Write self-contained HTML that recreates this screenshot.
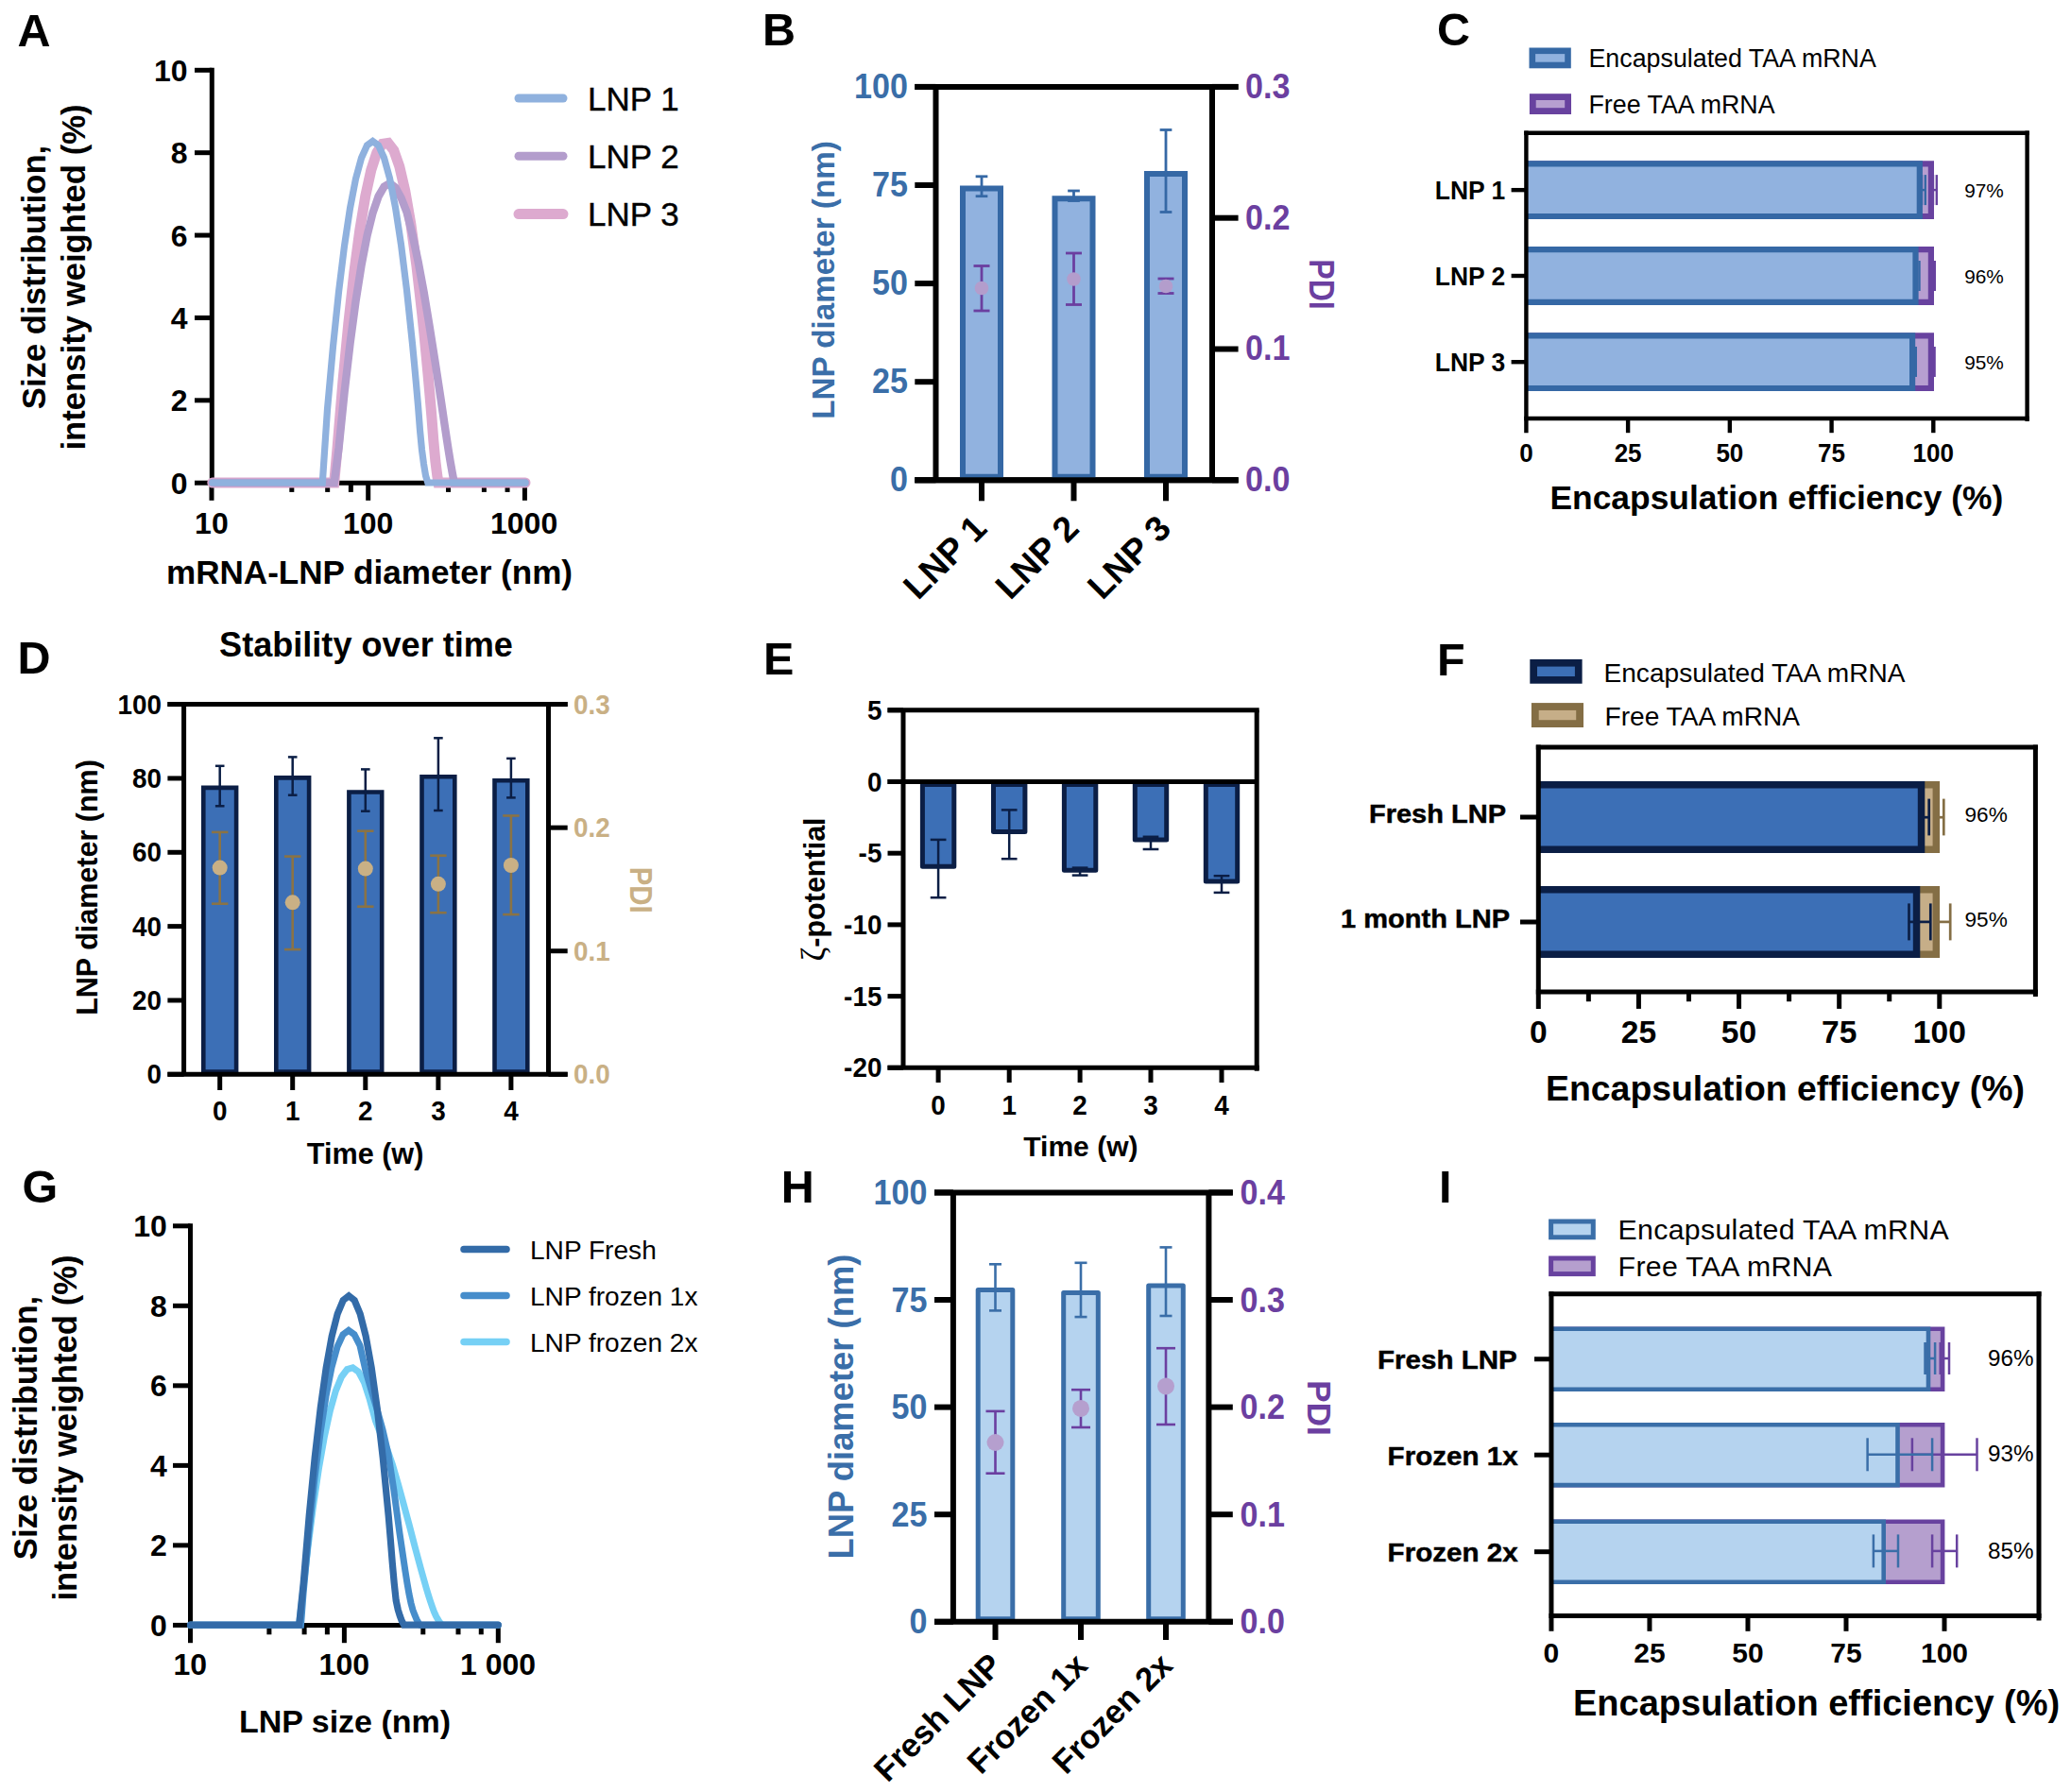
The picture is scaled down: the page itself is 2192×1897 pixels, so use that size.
<!DOCTYPE html>
<html lang="en"><head><meta charset="utf-8"><title>Figure</title>
<style>html,body{margin:0;padding:0;background:#fff}svg{display:block}text{font-family:"Liberation Sans", sans-serif}</style></head>
<body>
<svg width="2192" height="1897" viewBox="0 0 2192 1897">
<rect width="2192" height="1897" fill="#fff"/>
<text x="18.5" y="48.6" font-size="48.5" text-anchor="start" font-weight="bold" fill="#000">A</text>
<line x1="224.3" y1="71.8" x2="224.3" y2="513.7" stroke="#000" stroke-width="5"/>
<line x1="224.3" y1="511.2" x2="556" y2="511.2" stroke="#000" stroke-width="5"/>
<line x1="206" y1="511.2" x2="224.3" y2="511.2" stroke="#000" stroke-width="5"/>
<text x="198.6" y="522.7" font-size="32" text-anchor="end" font-weight="bold" fill="#000">0</text>
<line x1="206" y1="423.82" x2="224.3" y2="423.82" stroke="#000" stroke-width="5"/>
<text x="198.6" y="435.32" font-size="32" text-anchor="end" font-weight="bold" fill="#000">2</text>
<line x1="206" y1="336.44" x2="224.3" y2="336.44" stroke="#000" stroke-width="5"/>
<text x="198.6" y="347.94" font-size="32" text-anchor="end" font-weight="bold" fill="#000">4</text>
<line x1="206" y1="249.06" x2="224.3" y2="249.06" stroke="#000" stroke-width="5"/>
<text x="198.6" y="260.56" font-size="32" text-anchor="end" font-weight="bold" fill="#000">6</text>
<line x1="206" y1="161.68" x2="224.3" y2="161.68" stroke="#000" stroke-width="5"/>
<text x="198.6" y="173.18" font-size="32" text-anchor="end" font-weight="bold" fill="#000">8</text>
<line x1="206" y1="74.3" x2="224.3" y2="74.3" stroke="#000" stroke-width="5"/>
<text x="198.6" y="85.8" font-size="32" text-anchor="end" font-weight="bold" fill="#000">10</text>
<line x1="224" y1="511.2" x2="224" y2="529.8" stroke="#000" stroke-width="5"/>
<line x1="389.7" y1="511.2" x2="389.7" y2="529.8" stroke="#000" stroke-width="5"/>
<line x1="555.4" y1="511.2" x2="555.4" y2="529.8" stroke="#000" stroke-width="5"/>
<line x1="308.82" y1="511.2" x2="308.82" y2="520.9" stroke="#000" stroke-width="5"/>
<line x1="346.68" y1="511.2" x2="346.68" y2="520.9" stroke="#000" stroke-width="5"/>
<line x1="371.36" y1="511.2" x2="371.36" y2="520.9" stroke="#000" stroke-width="5"/>
<line x1="474.52" y1="511.2" x2="474.52" y2="520.9" stroke="#000" stroke-width="5"/>
<line x1="512.38" y1="511.2" x2="512.38" y2="520.9" stroke="#000" stroke-width="5"/>
<line x1="537.06" y1="511.2" x2="537.06" y2="520.9" stroke="#000" stroke-width="5"/>
<text x="223.9" y="565.4" font-size="32" text-anchor="middle" font-weight="bold" fill="#000">10</text>
<text x="389.7" y="565.4" font-size="32" text-anchor="middle" font-weight="bold" fill="#000">100</text>
<text x="554.6" y="565.4" font-size="32" text-anchor="middle" font-weight="bold" fill="#000">1000</text>
<text x="391" y="618.3" font-size="35.1" text-anchor="middle" font-weight="bold" fill="#000">mRNA-LNP diameter (nm)</text>
<text x="47.5" y="293.5" font-size="34.7" text-anchor="middle" font-weight="bold" fill="#000" transform="rotate(-90 47.5 293.5)">Size distribution,</text>
<text x="90.3" y="293.5" font-size="34.7" text-anchor="middle" font-weight="bold" fill="#000" transform="rotate(-90 90.3 293.5)">intensity weighted (%)</text>
<polyline points="224.8,511 353.7,511 356.8,477.25 362.8,405.21 368.8,342.42 374.8,288.54 380.8,243.53 386.8,207.36 392.8,180.04 398.8,161.53 404.8,152.32 410.8,151.49 416.8,159.18 422.8,176.28 428.8,202.14 434.8,236.84 440.8,280.39 446.8,332.8 448.8,352.28 450.8,372.65 452.8,394.1 454.8,416.54 456.8,439.97 458.8,466.17 460.8,487.66 462.8,503.67 464,511 556,511" fill="none" stroke="#DDAACF" stroke-width="11" stroke-linejoin="miter" stroke-linecap="round"/>
<polyline points="224.8,511 353.7,511 358.6,473.94 364.6,415.18 370.6,363.34 376.6,318.42 382.6,280.4 388.6,249.3 394.6,225.1 400.6,207.82 406.6,197.46 412.6,194 418.6,198.65 424.6,209.52 430.6,224.77 436.6,248.68 442.6,276.94 448.6,309.11 454.6,345.37 460.6,383.47 466.6,422.55 468.6,436.12 470.6,449.76 472.6,463.21 474.6,476.17 476.6,488.37 478.6,499.72 480.7,511 556,511" fill="none" stroke="#B39DCC" stroke-width="8.4" stroke-linejoin="miter" stroke-linecap="round"/>
<polyline points="224.8,511 341.3,511 346.5,433.35 352.5,366.82 358.5,309.17 364.5,260.38 370.5,220.46 376.5,189.42 382.5,167.24 388.5,153.94 394.5,149.5 400.5,153.87 406.5,167 412.5,188.87 418.5,219.48 424.5,258.85 430.5,306.96 436.5,363.83 438.5,384.73 440.5,406.68 442.5,429.44 444.5,455.43 446.5,476.19 448.5,491.24 450.5,503.32 452.8,511 556,511" fill="none" stroke="#8FB1DE" stroke-width="7.2" stroke-linejoin="miter" stroke-linecap="round"/>
<line x1="549" y1="104" x2="596" y2="104" stroke="#8FB1DE" stroke-width="9" stroke-linecap="round"/>
<text x="622" y="116.5" font-size="35" text-anchor="start" font-weight="normal" fill="#000" stroke="#000" stroke-width="0.4">LNP 1</text>
<line x1="549" y1="165.3" x2="596" y2="165.3" stroke="#B39DCC" stroke-width="9" stroke-linecap="round"/>
<text x="622" y="177.8" font-size="35" text-anchor="start" font-weight="normal" fill="#000" stroke="#000" stroke-width="0.4">LNP 2</text>
<line x1="549" y1="226.6" x2="596" y2="226.6" stroke="#DDAACF" stroke-width="11" stroke-linecap="round"/>
<text x="622" y="239.1" font-size="35" text-anchor="start" font-weight="normal" fill="#000" stroke="#000" stroke-width="0.4">LNP 3</text>
<text x="807" y="47.9" font-size="48.5" text-anchor="start" font-weight="bold" fill="#000">B</text>
<line x1="968.3" y1="91.9" x2="1310.6" y2="91.9" stroke="#000" stroke-width="6"/>
<line x1="968.3" y1="508.3" x2="1310.6" y2="508.3" stroke="#000" stroke-width="6"/>
<line x1="990.5" y1="91.9" x2="990.5" y2="508.3" stroke="#000" stroke-width="6"/>
<line x1="1283" y1="91.9" x2="1283" y2="508.3" stroke="#000" stroke-width="6"/>
<line x1="968.3" y1="508.3" x2="990.5" y2="508.3" stroke="#000" stroke-width="6"/>
<text x="961" y="520.2" font-size="36.5" text-anchor="end" font-weight="bold" fill="#3A6EA8" textLength="18.98" lengthAdjust="spacingAndGlyphs">0</text>
<line x1="968.3" y1="404.2" x2="990.5" y2="404.2" stroke="#000" stroke-width="6"/>
<text x="961" y="416.1" font-size="36.5" text-anchor="end" font-weight="bold" fill="#3A6EA8" textLength="37.96" lengthAdjust="spacingAndGlyphs">25</text>
<line x1="968.3" y1="300.1" x2="990.5" y2="300.1" stroke="#000" stroke-width="6"/>
<text x="961" y="312" font-size="36.5" text-anchor="end" font-weight="bold" fill="#3A6EA8" textLength="37.96" lengthAdjust="spacingAndGlyphs">50</text>
<line x1="968.3" y1="196" x2="990.5" y2="196" stroke="#000" stroke-width="6"/>
<text x="961" y="207.9" font-size="36.5" text-anchor="end" font-weight="bold" fill="#3A6EA8" textLength="37.96" lengthAdjust="spacingAndGlyphs">75</text>
<line x1="968.3" y1="91.9" x2="990.5" y2="91.9" stroke="#000" stroke-width="6"/>
<text x="961" y="103.8" font-size="36.5" text-anchor="end" font-weight="bold" fill="#3A6EA8" textLength="56.94" lengthAdjust="spacingAndGlyphs">100</text>
<line x1="1283" y1="508.3" x2="1310.6" y2="508.3" stroke="#000" stroke-width="6"/>
<text x="1318" y="520.2" font-size="36.5" text-anchor="start" font-weight="bold" fill="#6B3FA0" textLength="47.44" lengthAdjust="spacingAndGlyphs">0.0</text>
<line x1="1283" y1="369.5" x2="1310.6" y2="369.5" stroke="#000" stroke-width="6"/>
<text x="1318" y="381.4" font-size="36.5" text-anchor="start" font-weight="bold" fill="#6B3FA0" textLength="47.44" lengthAdjust="spacingAndGlyphs">0.1</text>
<line x1="1283" y1="230.7" x2="1310.6" y2="230.7" stroke="#000" stroke-width="6"/>
<text x="1318" y="242.6" font-size="36.5" text-anchor="start" font-weight="bold" fill="#6B3FA0" textLength="47.44" lengthAdjust="spacingAndGlyphs">0.2</text>
<line x1="1283" y1="91.9" x2="1310.6" y2="91.9" stroke="#000" stroke-width="6"/>
<text x="1318" y="103.8" font-size="36.5" text-anchor="start" font-weight="bold" fill="#6B3FA0" textLength="47.44" lengthAdjust="spacingAndGlyphs">0.3</text>
<path d="M1019,504.8 L1019,199.6 L1059,199.6 L1059,504.8Z" fill="#91B2DF" stroke="#3568A5" stroke-width="6" stroke-linejoin="miter"/>
<line x1="1039" y1="186.8" x2="1039" y2="207.7" stroke="#3568A5" stroke-width="2.8"/>
<line x1="1032.65" y1="186.8" x2="1045.35" y2="186.8" stroke="#3568A5" stroke-width="2.8"/>
<line x1="1032.65" y1="207.7" x2="1045.35" y2="207.7" stroke="#3568A5" stroke-width="2.8"/>
<line x1="1039" y1="281.5" x2="1039" y2="329" stroke="#6B3FA0" stroke-width="2.8"/>
<line x1="1030.5" y1="281.5" x2="1047.5" y2="281.5" stroke="#6B3FA0" stroke-width="2.8"/>
<line x1="1030.5" y1="329" x2="1047.5" y2="329" stroke="#6B3FA0" stroke-width="2.8"/>
<circle cx="1039" cy="305" r="7.3" fill="#B39DCC"/>
<line x1="1039" y1="508.3" x2="1039" y2="530.3" stroke="#000" stroke-width="6"/>
<path d="M1116.5,504.8 L1116.5,210.2 L1156.5,210.2 L1156.5,504.8Z" fill="#91B2DF" stroke="#3568A5" stroke-width="6" stroke-linejoin="miter"/>
<line x1="1136.5" y1="202" x2="1136.5" y2="212.5" stroke="#3568A5" stroke-width="2.8"/>
<line x1="1130.15" y1="202" x2="1142.85" y2="202" stroke="#3568A5" stroke-width="2.8"/>
<line x1="1130.15" y1="212.5" x2="1142.85" y2="212.5" stroke="#3568A5" stroke-width="2.8"/>
<line x1="1136.5" y1="268" x2="1136.5" y2="322.5" stroke="#6B3FA0" stroke-width="2.8"/>
<line x1="1128" y1="268" x2="1145" y2="268" stroke="#6B3FA0" stroke-width="2.8"/>
<line x1="1128" y1="322.5" x2="1145" y2="322.5" stroke="#6B3FA0" stroke-width="2.8"/>
<circle cx="1136.5" cy="295.5" r="7.3" fill="#B39DCC"/>
<line x1="1136.5" y1="508.3" x2="1136.5" y2="530.3" stroke="#000" stroke-width="6"/>
<path d="M1214,504.8 L1214,184 L1254,184 L1254,504.8Z" fill="#91B2DF" stroke="#3568A5" stroke-width="6" stroke-linejoin="miter"/>
<line x1="1234" y1="137.5" x2="1234" y2="224.5" stroke="#3568A5" stroke-width="2.8"/>
<line x1="1227.65" y1="137.5" x2="1240.35" y2="137.5" stroke="#3568A5" stroke-width="2.8"/>
<line x1="1227.65" y1="224.5" x2="1240.35" y2="224.5" stroke="#3568A5" stroke-width="2.8"/>
<line x1="1234" y1="295" x2="1234" y2="310.5" stroke="#6B3FA0" stroke-width="2.8"/>
<line x1="1225.5" y1="295" x2="1242.5" y2="295" stroke="#6B3FA0" stroke-width="2.8"/>
<line x1="1225.5" y1="310.5" x2="1242.5" y2="310.5" stroke="#6B3FA0" stroke-width="2.8"/>
<circle cx="1234" cy="303" r="7.3" fill="#B39DCC"/>
<line x1="1234" y1="508.3" x2="1234" y2="530.3" stroke="#000" stroke-width="6"/>
<line x1="968.3" y1="508.3" x2="1310.6" y2="508.3" stroke="#000" stroke-width="6"/>
<text x="1046.5" y="561.5" font-size="37.5" text-anchor="end" font-weight="bold" fill="#000" transform="rotate(-45 1046.5 561.5)">LNP 1</text>
<text x="1144" y="561.5" font-size="37.5" text-anchor="end" font-weight="bold" fill="#000" transform="rotate(-45 1144 561.5)">LNP 2</text>
<text x="1241.5" y="561.5" font-size="37.5" text-anchor="end" font-weight="bold" fill="#000" transform="rotate(-45 1241.5 561.5)">LNP 3</text>
<text x="883.4" y="296.5" font-size="33.2" text-anchor="middle" font-weight="bold" fill="#3A6EA8" transform="rotate(-90 883.4 296.5)">LNP diameter (nm)</text>
<text x="1386.3" y="301" font-size="36" text-anchor="middle" font-weight="bold" fill="#6B3FA0" transform="rotate(90 1386.3 301)" textLength="53.4" lengthAdjust="spacingAndGlyphs">PDI</text>
<text x="1521" y="48.4" font-size="48.5" text-anchor="start" font-weight="bold" fill="#000">C</text>
<rect x="1621.8" y="53.8" width="37.7" height="15.2" fill="#91B2DF" stroke="#3568A5" stroke-width="6.6"/>
<rect x="1622.3" y="102.6" width="37.3" height="15" fill="#B79FD0" stroke="#68429F" stroke-width="6.8"/>
<text x="1681.5" y="71" font-size="26.8" text-anchor="start" font-weight="normal" fill="#000">Encapsulated TAA mRNA</text>
<text x="1681.5" y="119.8" font-size="26.8" text-anchor="start" font-weight="normal" fill="#000">Free TAA mRNA</text>
<path d="M1615.4,173.3 L2043.9,173.3 L2043.9,229 L1615.4,229" fill="#B79FD0" stroke="#68429F" stroke-width="6.2"/>
<path d="M1615.4,173.3 L2031.8,173.3 L2031.8,229 L1615.4,229" fill="#91B2DF" stroke="#3568A5" stroke-width="6.2"/>
<path d="M1615.4,264.1 L2043.9,264.1 L2043.9,319.9 L1615.4,319.9" fill="#B79FD0" stroke="#68429F" stroke-width="6.2"/>
<path d="M1615.4,264.1 L2027.5,264.1 L2027.5,319.9 L1615.4,319.9" fill="#91B2DF" stroke="#3568A5" stroke-width="6.2"/>
<path d="M1615.4,355.4 L2043.9,355.4 L2043.9,411 L1615.4,411" fill="#B79FD0" stroke="#68429F" stroke-width="6.2"/>
<path d="M1615.4,355.4 L2024.1,355.4 L2024.1,411 L1615.4,411" fill="#91B2DF" stroke="#3568A5" stroke-width="6.2"/>
<line x1="2034" y1="201.1" x2="2037.8" y2="201.1" stroke="#3568A5" stroke-width="2.4"/>
<line x1="2034" y1="185.1" x2="2034" y2="217.1" stroke="#3568A5" stroke-width="2.4"/>
<line x1="2037.8" y1="185.1" x2="2037.8" y2="217.1" stroke="#3568A5" stroke-width="2.4"/>
<line x1="2046" y1="201.1" x2="2049.8" y2="201.1" stroke="#68429F" stroke-width="2.4"/>
<line x1="2046" y1="185.1" x2="2046" y2="217.1" stroke="#68429F" stroke-width="2.4"/>
<line x1="2049.8" y1="185.1" x2="2049.8" y2="217.1" stroke="#68429F" stroke-width="2.4"/>
<line x1="2031.5" y1="276" x2="2031.5" y2="308" stroke="#3568A5" stroke-width="2.4"/>
<line x1="2047.8" y1="276" x2="2047.8" y2="308" stroke="#68429F" stroke-width="2.4"/>
<line x1="2027.8" y1="367" x2="2027.8" y2="399" stroke="#3568A5" stroke-width="2.4"/>
<line x1="2047.6" y1="367" x2="2047.6" y2="399" stroke="#68429F" stroke-width="2.4"/>
<line x1="1615.4" y1="138.6" x2="1615.4" y2="458.2" stroke="#000" stroke-width="4.4"/>
<line x1="2145.6" y1="138.6" x2="2145.6" y2="446" stroke="#000" stroke-width="4.4"/>
<line x1="1613.2" y1="140.8" x2="2147.8" y2="140.8" stroke="#000" stroke-width="4.4"/>
<line x1="1613.2" y1="443" x2="2147.8" y2="443" stroke="#000" stroke-width="4.4"/>
<line x1="1723.12" y1="443" x2="1723.12" y2="458.2" stroke="#000" stroke-width="4.4"/>
<line x1="1830.85" y1="443" x2="1830.85" y2="458.2" stroke="#000" stroke-width="4.4"/>
<line x1="1938.58" y1="443" x2="1938.58" y2="458.2" stroke="#000" stroke-width="4.4"/>
<line x1="2046.3" y1="443" x2="2046.3" y2="458.2" stroke="#000" stroke-width="4.4"/>
<text x="1615.4" y="488.6" font-size="27.4" text-anchor="middle" font-weight="bold" fill="#000" textLength="14.48" lengthAdjust="spacingAndGlyphs">0</text>
<text x="1723.12" y="488.6" font-size="27.4" text-anchor="middle" font-weight="bold" fill="#000" textLength="28.95" lengthAdjust="spacingAndGlyphs">25</text>
<text x="1830.85" y="488.6" font-size="27.4" text-anchor="middle" font-weight="bold" fill="#000" textLength="28.95" lengthAdjust="spacingAndGlyphs">50</text>
<text x="1938.58" y="488.6" font-size="27.4" text-anchor="middle" font-weight="bold" fill="#000" textLength="28.95" lengthAdjust="spacingAndGlyphs">75</text>
<text x="2046.3" y="488.6" font-size="27.4" text-anchor="middle" font-weight="bold" fill="#000" textLength="43.43" lengthAdjust="spacingAndGlyphs">100</text>
<line x1="1599.6" y1="201.15" x2="1615.4" y2="201.15" stroke="#000" stroke-width="4.4"/>
<text x="1593.3" y="210.75" font-size="27" text-anchor="end" font-weight="bold" fill="#000" textLength="74.5" lengthAdjust="spacingAndGlyphs">LNP 1</text>
<text x="2079.2" y="208.75" font-size="20.8" text-anchor="start" font-weight="normal" fill="#000">97%</text>
<line x1="1599.6" y1="292" x2="1615.4" y2="292" stroke="#000" stroke-width="4.4"/>
<text x="1593.3" y="301.6" font-size="27" text-anchor="end" font-weight="bold" fill="#000" textLength="74.5" lengthAdjust="spacingAndGlyphs">LNP 2</text>
<text x="2079.2" y="299.6" font-size="20.8" text-anchor="start" font-weight="normal" fill="#000">96%</text>
<line x1="1599.6" y1="383.2" x2="1615.4" y2="383.2" stroke="#000" stroke-width="4.4"/>
<text x="1593.3" y="392.8" font-size="27" text-anchor="end" font-weight="bold" fill="#000" textLength="74.5" lengthAdjust="spacingAndGlyphs">LNP 3</text>
<text x="2079.2" y="390.8" font-size="20.8" text-anchor="start" font-weight="normal" fill="#000">95%</text>
<text x="1880.4" y="538.9" font-size="35.4" text-anchor="middle" font-weight="bold" fill="#000">Encapsulation efficiency (%)</text>
<text x="18.6" y="713.4" font-size="48.5" text-anchor="start" font-weight="bold" fill="#000">D</text>
<text x="387.5" y="695" font-size="36.1" text-anchor="middle" font-weight="bold" fill="#000">Stability over time</text>
<path d="M215.3,1134.5 L215.3,833.9 L250.1,833.9 L250.1,1134.5Z" fill="#3C6FB6" stroke="#0B1E45" stroke-width="4.6" stroke-linejoin="miter"/>
<line x1="232.7" y1="810.8" x2="232.7" y2="853.3" stroke="#0B1E45" stroke-width="2.5"/>
<line x1="227.9" y1="810.8" x2="237.5" y2="810.8" stroke="#0B1E45" stroke-width="2.5"/>
<line x1="227.9" y1="853.3" x2="237.5" y2="853.3" stroke="#0B1E45" stroke-width="2.5"/>
<line x1="232.7" y1="880.9" x2="232.7" y2="956.7" stroke="#8A7345" stroke-width="2.6"/>
<line x1="224" y1="880.9" x2="241.4" y2="880.9" stroke="#8A7345" stroke-width="2.6"/>
<line x1="224" y1="956.7" x2="241.4" y2="956.7" stroke="#8A7345" stroke-width="2.6"/>
<circle cx="232.7" cy="918.6" r="8" fill="#C9B085"/>
<line x1="232.7" y1="1137.3" x2="232.7" y2="1154" stroke="#000" stroke-width="5"/>
<path d="M292.3,1134.5 L292.3,823.4 L327.1,823.4 L327.1,1134.5Z" fill="#3C6FB6" stroke="#0B1E45" stroke-width="4.6" stroke-linejoin="miter"/>
<line x1="309.7" y1="801.4" x2="309.7" y2="841.7" stroke="#0B1E45" stroke-width="2.5"/>
<line x1="304.9" y1="801.4" x2="314.5" y2="801.4" stroke="#0B1E45" stroke-width="2.5"/>
<line x1="304.9" y1="841.7" x2="314.5" y2="841.7" stroke="#0B1E45" stroke-width="2.5"/>
<line x1="309.7" y1="906.6" x2="309.7" y2="1005.1" stroke="#8A7345" stroke-width="2.6"/>
<line x1="301" y1="906.6" x2="318.4" y2="906.6" stroke="#8A7345" stroke-width="2.6"/>
<line x1="301" y1="1005.1" x2="318.4" y2="1005.1" stroke="#8A7345" stroke-width="2.6"/>
<circle cx="309.7" cy="955.3" r="8" fill="#C9B085"/>
<line x1="309.7" y1="1137.3" x2="309.7" y2="1154" stroke="#000" stroke-width="5"/>
<path d="M369.4,1134.5 L369.4,838.5 L404.2,838.5 L404.2,1134.5Z" fill="#3C6FB6" stroke="#0B1E45" stroke-width="4.6" stroke-linejoin="miter"/>
<line x1="386.8" y1="814.4" x2="386.8" y2="858.7" stroke="#0B1E45" stroke-width="2.5"/>
<line x1="382" y1="814.4" x2="391.6" y2="814.4" stroke="#0B1E45" stroke-width="2.5"/>
<line x1="382" y1="858.7" x2="391.6" y2="858.7" stroke="#0B1E45" stroke-width="2.5"/>
<line x1="386.8" y1="879.7" x2="386.8" y2="959.7" stroke="#8A7345" stroke-width="2.6"/>
<line x1="378.1" y1="879.7" x2="395.5" y2="879.7" stroke="#8A7345" stroke-width="2.6"/>
<line x1="378.1" y1="959.7" x2="395.5" y2="959.7" stroke="#8A7345" stroke-width="2.6"/>
<circle cx="386.8" cy="919.6" r="8" fill="#C9B085"/>
<line x1="386.8" y1="1137.3" x2="386.8" y2="1154" stroke="#000" stroke-width="5"/>
<path d="M446.5,1134.5 L446.5,822.2 L481.3,822.2 L481.3,1134.5Z" fill="#3C6FB6" stroke="#0B1E45" stroke-width="4.6" stroke-linejoin="miter"/>
<line x1="463.9" y1="781.3" x2="463.9" y2="858" stroke="#0B1E45" stroke-width="2.5"/>
<line x1="459.1" y1="781.3" x2="468.7" y2="781.3" stroke="#0B1E45" stroke-width="2.5"/>
<line x1="459.1" y1="858" x2="468.7" y2="858" stroke="#0B1E45" stroke-width="2.5"/>
<line x1="463.9" y1="905.7" x2="463.9" y2="966.2" stroke="#8A7345" stroke-width="2.6"/>
<line x1="455.2" y1="905.7" x2="472.6" y2="905.7" stroke="#8A7345" stroke-width="2.6"/>
<line x1="455.2" y1="966.2" x2="472.6" y2="966.2" stroke="#8A7345" stroke-width="2.6"/>
<circle cx="463.9" cy="935.8" r="8" fill="#C9B085"/>
<line x1="463.9" y1="1137.3" x2="463.9" y2="1154" stroke="#000" stroke-width="5"/>
<path d="M523.5,1134.5 L523.5,826.2 L558.3,826.2 L558.3,1134.5Z" fill="#3C6FB6" stroke="#0B1E45" stroke-width="4.6" stroke-linejoin="miter"/>
<line x1="540.9" y1="802.9" x2="540.9" y2="844.4" stroke="#0B1E45" stroke-width="2.5"/>
<line x1="536.1" y1="802.9" x2="545.7" y2="802.9" stroke="#0B1E45" stroke-width="2.5"/>
<line x1="536.1" y1="844.4" x2="545.7" y2="844.4" stroke="#0B1E45" stroke-width="2.5"/>
<line x1="540.9" y1="863.5" x2="540.9" y2="968.1" stroke="#8A7345" stroke-width="2.6"/>
<line x1="532.2" y1="863.5" x2="549.6" y2="863.5" stroke="#8A7345" stroke-width="2.6"/>
<line x1="532.2" y1="968.1" x2="549.6" y2="968.1" stroke="#8A7345" stroke-width="2.6"/>
<circle cx="540.9" cy="916" r="8" fill="#C9B085"/>
<line x1="540.9" y1="1137.3" x2="540.9" y2="1154" stroke="#000" stroke-width="5"/>
<line x1="177.4" y1="745.6" x2="600.7" y2="745.6" stroke="#000" stroke-width="5"/>
<line x1="177.4" y1="1137.3" x2="600.7" y2="1137.3" stroke="#000" stroke-width="5"/>
<line x1="194.6" y1="745.6" x2="194.6" y2="1137.3" stroke="#000" stroke-width="5"/>
<line x1="580.5" y1="745.6" x2="580.5" y2="1137.3" stroke="#000" stroke-width="5"/>
<line x1="177.4" y1="1137.3" x2="194.6" y2="1137.3" stroke="#000" stroke-width="5"/>
<text x="171" y="1147.4" font-size="29.5" text-anchor="end" font-weight="bold" fill="#000" textLength="15.5" lengthAdjust="spacingAndGlyphs">0</text>
<line x1="177.4" y1="1058.96" x2="194.6" y2="1058.96" stroke="#000" stroke-width="5"/>
<text x="171" y="1069.06" font-size="29.5" text-anchor="end" font-weight="bold" fill="#000" textLength="31.01" lengthAdjust="spacingAndGlyphs">20</text>
<line x1="177.4" y1="980.62" x2="194.6" y2="980.62" stroke="#000" stroke-width="5"/>
<text x="171" y="990.72" font-size="29.5" text-anchor="end" font-weight="bold" fill="#000" textLength="31.01" lengthAdjust="spacingAndGlyphs">40</text>
<line x1="177.4" y1="902.28" x2="194.6" y2="902.28" stroke="#000" stroke-width="5"/>
<text x="171" y="912.38" font-size="29.5" text-anchor="end" font-weight="bold" fill="#000" textLength="31.01" lengthAdjust="spacingAndGlyphs">60</text>
<line x1="177.4" y1="823.94" x2="194.6" y2="823.94" stroke="#000" stroke-width="5"/>
<text x="171" y="834.04" font-size="29.5" text-anchor="end" font-weight="bold" fill="#000" textLength="31.01" lengthAdjust="spacingAndGlyphs">80</text>
<line x1="177.4" y1="745.6" x2="194.6" y2="745.6" stroke="#000" stroke-width="5"/>
<text x="171" y="755.7" font-size="29.5" text-anchor="end" font-weight="bold" fill="#000" textLength="46.51" lengthAdjust="spacingAndGlyphs">100</text>
<line x1="580.5" y1="1137.3" x2="600.7" y2="1137.3" stroke="#000" stroke-width="5"/>
<text x="607" y="1147.4" font-size="29.5" text-anchor="start" font-weight="bold" fill="#C9B085" textLength="38.75" lengthAdjust="spacingAndGlyphs">0.0</text>
<line x1="580.5" y1="1006.73" x2="600.7" y2="1006.73" stroke="#000" stroke-width="5"/>
<text x="607" y="1016.83" font-size="29.5" text-anchor="start" font-weight="bold" fill="#C9B085" textLength="38.75" lengthAdjust="spacingAndGlyphs">0.1</text>
<line x1="580.5" y1="876.17" x2="600.7" y2="876.17" stroke="#000" stroke-width="5"/>
<text x="607" y="886.27" font-size="29.5" text-anchor="start" font-weight="bold" fill="#C9B085" textLength="38.75" lengthAdjust="spacingAndGlyphs">0.2</text>
<line x1="580.5" y1="745.6" x2="600.7" y2="745.6" stroke="#000" stroke-width="5"/>
<text x="607" y="755.7" font-size="29.5" text-anchor="start" font-weight="bold" fill="#C9B085" textLength="38.75" lengthAdjust="spacingAndGlyphs">0.3</text>
<text x="232.7" y="1186" font-size="29.5" text-anchor="middle" font-weight="bold" fill="#000" textLength="15.5" lengthAdjust="spacingAndGlyphs">0</text>
<text x="309.7" y="1186" font-size="29.5" text-anchor="middle" font-weight="bold" fill="#000" textLength="15.5" lengthAdjust="spacingAndGlyphs">1</text>
<text x="386.8" y="1186" font-size="29.5" text-anchor="middle" font-weight="bold" fill="#000" textLength="15.5" lengthAdjust="spacingAndGlyphs">2</text>
<text x="463.9" y="1186" font-size="29.5" text-anchor="middle" font-weight="bold" fill="#000" textLength="15.5" lengthAdjust="spacingAndGlyphs">3</text>
<text x="540.9" y="1186" font-size="29.5" text-anchor="middle" font-weight="bold" fill="#000" textLength="15.5" lengthAdjust="spacingAndGlyphs">4</text>
<text x="386.6" y="1231.6" font-size="30.6" text-anchor="middle" font-weight="bold" fill="#000">Time (w)</text>
<text x="103" y="939.5" font-size="30.5" text-anchor="middle" font-weight="bold" fill="#000" transform="rotate(-90 103 939.5)">LNP diameter (nm)</text>
<text x="667" y="942.2" font-size="32.7" text-anchor="middle" font-weight="bold" fill="#C9B085" transform="rotate(90 667 942.2)" textLength="48.9" lengthAdjust="spacingAndGlyphs">PDI</text>
<text x="808" y="713.7" font-size="48.5" text-anchor="start" font-weight="bold" fill="#000">E</text>
<path d="M976.4,830.5 L976.4,917.3 L1009.8,917.3 L1009.8,830.5Z" fill="#3C6FB6" stroke="#0B1E45" stroke-width="5" stroke-linejoin="round"/>
<line x1="993.1" y1="888.9" x2="993.1" y2="950.2" stroke="#0B1E45" stroke-width="2.5"/>
<line x1="984.75" y1="888.9" x2="1001.45" y2="888.9" stroke="#0B1E45" stroke-width="2.5"/>
<line x1="984.75" y1="950.2" x2="1001.45" y2="950.2" stroke="#0B1E45" stroke-width="2.5"/>
<line x1="993.1" y1="1130.3" x2="993.1" y2="1146" stroke="#000" stroke-width="5"/>
<path d="M1051.5,830.5 L1051.5,880.6 L1084.9,880.6 L1084.9,830.5Z" fill="#3C6FB6" stroke="#0B1E45" stroke-width="5" stroke-linejoin="round"/>
<line x1="1068.2" y1="857.4" x2="1068.2" y2="909.2" stroke="#0B1E45" stroke-width="2.5"/>
<line x1="1059.85" y1="857.4" x2="1076.55" y2="857.4" stroke="#0B1E45" stroke-width="2.5"/>
<line x1="1059.85" y1="909.2" x2="1076.55" y2="909.2" stroke="#0B1E45" stroke-width="2.5"/>
<line x1="1068.2" y1="1130.3" x2="1068.2" y2="1146" stroke="#000" stroke-width="5"/>
<path d="M1126.4,830.5 L1126.4,921.2 L1159.8,921.2 L1159.8,830.5Z" fill="#3C6FB6" stroke="#0B1E45" stroke-width="5" stroke-linejoin="round"/>
<line x1="1143.1" y1="918.6" x2="1143.1" y2="926.6" stroke="#0B1E45" stroke-width="2.5"/>
<line x1="1134.75" y1="918.6" x2="1151.45" y2="918.6" stroke="#0B1E45" stroke-width="2.5"/>
<line x1="1134.75" y1="926.6" x2="1151.45" y2="926.6" stroke="#0B1E45" stroke-width="2.5"/>
<line x1="1143.1" y1="1130.3" x2="1143.1" y2="1146" stroke="#000" stroke-width="5"/>
<path d="M1201.3,830.5 L1201.3,888.9 L1234.7,888.9 L1234.7,830.5Z" fill="#3C6FB6" stroke="#0B1E45" stroke-width="5" stroke-linejoin="round"/>
<line x1="1218" y1="885.8" x2="1218" y2="899" stroke="#0B1E45" stroke-width="2.5"/>
<line x1="1209.65" y1="885.8" x2="1226.35" y2="885.8" stroke="#0B1E45" stroke-width="2.5"/>
<line x1="1209.65" y1="899" x2="1226.35" y2="899" stroke="#0B1E45" stroke-width="2.5"/>
<line x1="1218" y1="1130.3" x2="1218" y2="1146" stroke="#000" stroke-width="5"/>
<path d="M1276.3,830.5 L1276.3,933 L1309.7,933 L1309.7,830.5Z" fill="#3C6FB6" stroke="#0B1E45" stroke-width="5" stroke-linejoin="round"/>
<line x1="1293" y1="927.2" x2="1293" y2="944.9" stroke="#0B1E45" stroke-width="2.5"/>
<line x1="1284.65" y1="927.2" x2="1301.35" y2="927.2" stroke="#0B1E45" stroke-width="2.5"/>
<line x1="1284.65" y1="944.9" x2="1301.35" y2="944.9" stroke="#0B1E45" stroke-width="2.5"/>
<line x1="1293" y1="1130.3" x2="1293" y2="1146" stroke="#000" stroke-width="5"/>
<line x1="939.5" y1="751.8" x2="1332.7" y2="751.8" stroke="#000" stroke-width="5"/>
<line x1="939.5" y1="1130.3" x2="1332.7" y2="1130.3" stroke="#000" stroke-width="5"/>
<line x1="939.5" y1="827.5" x2="1330.2" y2="827.5" stroke="#000" stroke-width="5"/>
<line x1="956" y1="751.8" x2="956" y2="1130.3" stroke="#000" stroke-width="5"/>
<line x1="1330.2" y1="751.8" x2="1330.2" y2="1133.8" stroke="#000" stroke-width="5"/>
<line x1="939.5" y1="751.8" x2="956" y2="751.8" stroke="#000" stroke-width="5"/>
<text x="933.4" y="761.8" font-size="29.5" text-anchor="end" font-weight="bold" fill="#000" textLength="15.5" lengthAdjust="spacingAndGlyphs">5</text>
<line x1="939.5" y1="827.5" x2="956" y2="827.5" stroke="#000" stroke-width="5"/>
<text x="933.4" y="837.5" font-size="29.5" text-anchor="end" font-weight="bold" fill="#000" textLength="15.5" lengthAdjust="spacingAndGlyphs">0</text>
<line x1="939.5" y1="903.2" x2="956" y2="903.2" stroke="#000" stroke-width="5"/>
<text x="933.4" y="913.2" font-size="29.5" text-anchor="end" font-weight="bold" fill="#000" textLength="24.79" lengthAdjust="spacingAndGlyphs">-5</text>
<line x1="939.5" y1="978.9" x2="956" y2="978.9" stroke="#000" stroke-width="5"/>
<text x="933.4" y="988.9" font-size="29.5" text-anchor="end" font-weight="bold" fill="#000" textLength="40.29" lengthAdjust="spacingAndGlyphs">-10</text>
<line x1="939.5" y1="1054.6" x2="956" y2="1054.6" stroke="#000" stroke-width="5"/>
<text x="933.4" y="1064.6" font-size="29.5" text-anchor="end" font-weight="bold" fill="#000" textLength="40.29" lengthAdjust="spacingAndGlyphs">-15</text>
<line x1="939.5" y1="1130.3" x2="956" y2="1130.3" stroke="#000" stroke-width="5"/>
<text x="933.4" y="1140.3" font-size="29.5" text-anchor="end" font-weight="bold" fill="#000" textLength="40.29" lengthAdjust="spacingAndGlyphs">-20</text>
<text x="993.1" y="1179.5" font-size="29.5" text-anchor="middle" font-weight="bold" fill="#000" textLength="15.5" lengthAdjust="spacingAndGlyphs">0</text>
<text x="1068.2" y="1179.5" font-size="29.5" text-anchor="middle" font-weight="bold" fill="#000" textLength="15.5" lengthAdjust="spacingAndGlyphs">1</text>
<text x="1143.1" y="1179.5" font-size="29.5" text-anchor="middle" font-weight="bold" fill="#000" textLength="15.5" lengthAdjust="spacingAndGlyphs">2</text>
<text x="1218" y="1179.5" font-size="29.5" text-anchor="middle" font-weight="bold" fill="#000" textLength="15.5" lengthAdjust="spacingAndGlyphs">3</text>
<text x="1293" y="1179.5" font-size="29.5" text-anchor="middle" font-weight="bold" fill="#000" textLength="15.5" lengthAdjust="spacingAndGlyphs">4</text>
<text x="1143.9" y="1223.8" font-size="30" text-anchor="middle" font-weight="bold" fill="#000">Time (w)</text>
<text x="873" y="941.5" font-size="30.5" text-anchor="middle" font-weight="bold" fill="#000" transform="rotate(-90 873 941.5)"><tspan font-family="'Liberation Serif', serif" font-weight="normal" font-size="36">&#950;</tspan>-potential</text>
<text x="1521" y="714.6" font-size="48.5" text-anchor="start" font-weight="bold" fill="#000">F</text>
<rect x="1623.15" y="701.75" width="47.6" height="18.1" fill="#3C6FB6" stroke="#0B1E45" stroke-width="7.7"/>
<rect x="1624.8" y="748" width="47.3" height="18.1" fill="#C6AE88" stroke="#846E45" stroke-width="7.8"/>
<text x="1697.5" y="721.5" font-size="28.1" text-anchor="start" font-weight="normal" fill="#000">Encapsulated TAA mRNA</text>
<text x="1698.5" y="768" font-size="28.1" text-anchor="start" font-weight="normal" fill="#000">Free TAA mRNA</text>
<path d="M1628.3,830.65 L2049.35,830.65 L2049.35,899.35 L1628.3,899.35" fill="#C6AE88" stroke="#846E45" stroke-width="7.5"/>
<path d="M1628.3,830.65 L2033.55,830.65 L2033.55,899.35 L1628.3,899.35" fill="#3C6FB6" stroke="#0B1E45" stroke-width="7.5"/>
<path d="M1628.3,941.85 L2049.35,941.85 L2049.35,1010.15 L1628.3,1010.15" fill="#C6AE88" stroke="#846E45" stroke-width="7.5"/>
<path d="M1628.3,941.85 L2028.55,941.85 L2028.55,1010.15 L1628.3,1010.15" fill="#3C6FB6" stroke="#0B1E45" stroke-width="7.5"/>
<line x1="2037" y1="865.2" x2="2041.7" y2="865.2" stroke="#0B1E45" stroke-width="2.7"/>
<line x1="2041.7" y1="845.6" x2="2041.7" y2="884.4" stroke="#0B1E45" stroke-width="2.7"/>
<line x1="2053" y1="865.2" x2="2057.3" y2="865.2" stroke="#846E45" stroke-width="2.7"/>
<line x1="2057.3" y1="845.6" x2="2057.3" y2="884.4" stroke="#846E45" stroke-width="2.7"/>
<line x1="2020.5" y1="975.9" x2="2043.3" y2="975.9" stroke="#0B1E45" stroke-width="2.7"/>
<line x1="2020.5" y1="956.4" x2="2020.5" y2="995.4" stroke="#0B1E45" stroke-width="2.7"/>
<line x1="2043.3" y1="956.4" x2="2043.3" y2="995.4" stroke="#0B1E45" stroke-width="2.7"/>
<line x1="2053" y1="975.9" x2="2064.2" y2="975.9" stroke="#846E45" stroke-width="2.7"/>
<line x1="2064.2" y1="956.4" x2="2064.2" y2="995.4" stroke="#846E45" stroke-width="2.7"/>
<line x1="1628.3" y1="788.4" x2="1628.3" y2="1067.9" stroke="#000" stroke-width="5"/>
<line x1="2154.4" y1="788.4" x2="2154.4" y2="1055.1" stroke="#000" stroke-width="5"/>
<line x1="1625.8" y1="790.9" x2="2156.9" y2="790.9" stroke="#000" stroke-width="5"/>
<line x1="1625.8" y1="1050.1" x2="2156.9" y2="1050.1" stroke="#000" stroke-width="5"/>
<line x1="1734.42" y1="1050.1" x2="1734.42" y2="1067.9" stroke="#000" stroke-width="5"/>
<line x1="1840.55" y1="1050.1" x2="1840.55" y2="1067.9" stroke="#000" stroke-width="5"/>
<line x1="1946.68" y1="1050.1" x2="1946.68" y2="1067.9" stroke="#000" stroke-width="5"/>
<line x1="2052.8" y1="1050.1" x2="2052.8" y2="1067.9" stroke="#000" stroke-width="5"/>
<line x1="1681.36" y1="1050.1" x2="1681.36" y2="1060.2" stroke="#000" stroke-width="5"/>
<line x1="1787.49" y1="1050.1" x2="1787.49" y2="1060.2" stroke="#000" stroke-width="5"/>
<line x1="1893.61" y1="1050.1" x2="1893.61" y2="1060.2" stroke="#000" stroke-width="5"/>
<line x1="1999.74" y1="1050.1" x2="1999.74" y2="1060.2" stroke="#000" stroke-width="5"/>
<text x="1628.3" y="1103.5" font-size="33.6" text-anchor="middle" font-weight="bold" fill="#000">0</text>
<text x="1734.42" y="1103.5" font-size="33.6" text-anchor="middle" font-weight="bold" fill="#000">25</text>
<text x="1840.55" y="1103.5" font-size="33.6" text-anchor="middle" font-weight="bold" fill="#000">50</text>
<text x="1946.68" y="1103.5" font-size="33.6" text-anchor="middle" font-weight="bold" fill="#000">75</text>
<text x="2052.8" y="1103.5" font-size="33.6" text-anchor="middle" font-weight="bold" fill="#000">100</text>
<line x1="1609" y1="865" x2="1628.3" y2="865" stroke="#000" stroke-width="5"/>
<text x="1594" y="871.3" font-size="27.2" text-anchor="end" font-weight="bold" fill="#000" textLength="145" lengthAdjust="spacingAndGlyphs" stroke="#000" stroke-width="0.45">Fresh LNP</text>
<text x="2079.5" y="869.6" font-size="22.6" text-anchor="start" font-weight="normal" fill="#000">96%</text>
<line x1="1609" y1="976" x2="1628.3" y2="976" stroke="#000" stroke-width="5"/>
<text x="1598.1" y="982.3" font-size="27.2" text-anchor="end" font-weight="bold" fill="#000" textLength="179" lengthAdjust="spacingAndGlyphs" stroke="#000" stroke-width="0.45">1 month LNP</text>
<text x="2079.5" y="980.6" font-size="22.6" text-anchor="start" font-weight="normal" fill="#000">95%</text>
<text x="1889.5" y="1164.7" font-size="37.4" text-anchor="middle" font-weight="bold" fill="#000">Encapsulation efficiency (%)</text>
<text x="23.4" y="1273.3" font-size="48.5" text-anchor="start" font-weight="bold" fill="#000">G</text>
<line x1="201.5" y1="1295.3" x2="201.5" y2="1722.9" stroke="#000" stroke-width="5"/>
<line x1="201.5" y1="1720.4" x2="527.3" y2="1720.4" stroke="#000" stroke-width="5"/>
<line x1="183" y1="1720.4" x2="201.5" y2="1720.4" stroke="#000" stroke-width="5"/>
<text x="176.8" y="1731.9" font-size="32" text-anchor="end" font-weight="bold" fill="#000">0</text>
<line x1="183" y1="1635.88" x2="201.5" y2="1635.88" stroke="#000" stroke-width="5"/>
<text x="176.8" y="1647.38" font-size="32" text-anchor="end" font-weight="bold" fill="#000">2</text>
<line x1="183" y1="1551.36" x2="201.5" y2="1551.36" stroke="#000" stroke-width="5"/>
<text x="176.8" y="1562.86" font-size="32" text-anchor="end" font-weight="bold" fill="#000">4</text>
<line x1="183" y1="1466.84" x2="201.5" y2="1466.84" stroke="#000" stroke-width="5"/>
<text x="176.8" y="1478.34" font-size="32" text-anchor="end" font-weight="bold" fill="#000">6</text>
<line x1="183" y1="1382.32" x2="201.5" y2="1382.32" stroke="#000" stroke-width="5"/>
<text x="176.8" y="1393.82" font-size="32" text-anchor="end" font-weight="bold" fill="#000">8</text>
<line x1="183" y1="1297.8" x2="201.5" y2="1297.8" stroke="#000" stroke-width="5"/>
<text x="176.8" y="1309.3" font-size="32" text-anchor="end" font-weight="bold" fill="#000">10</text>
<line x1="201.5" y1="1720.4" x2="201.5" y2="1739.2" stroke="#000" stroke-width="5"/>
<line x1="364.4" y1="1720.4" x2="364.4" y2="1739.2" stroke="#000" stroke-width="5"/>
<line x1="527.3" y1="1720.4" x2="527.3" y2="1739.2" stroke="#000" stroke-width="5"/>
<line x1="284.89" y1="1720.4" x2="284.89" y2="1730.3" stroke="#000" stroke-width="5"/>
<line x1="322.11" y1="1720.4" x2="322.11" y2="1730.3" stroke="#000" stroke-width="5"/>
<line x1="346.37" y1="1720.4" x2="346.37" y2="1730.3" stroke="#000" stroke-width="5"/>
<line x1="447.79" y1="1720.4" x2="447.79" y2="1730.3" stroke="#000" stroke-width="5"/>
<line x1="485.01" y1="1720.4" x2="485.01" y2="1730.3" stroke="#000" stroke-width="5"/>
<line x1="509.27" y1="1720.4" x2="509.27" y2="1730.3" stroke="#000" stroke-width="5"/>
<text x="201.3" y="1773" font-size="32" text-anchor="middle" font-weight="bold" fill="#000">10</text>
<text x="364.3" y="1773" font-size="32" text-anchor="middle" font-weight="bold" fill="#000">100</text>
<text x="527" y="1773" font-size="32" text-anchor="middle" font-weight="bold" fill="#000">1 000</text>
<text x="365" y="1834" font-size="34" text-anchor="middle" font-weight="bold" fill="#000">LNP size (nm)</text>
<text x="38.5" y="1511.5" font-size="34.7" text-anchor="middle" font-weight="bold" fill="#000" transform="rotate(-90 38.5 1511.5)">Size distribution,</text>
<text x="80.5" y="1511.5" font-size="34.7" text-anchor="middle" font-weight="bold" fill="#000" transform="rotate(-90 80.5 1511.5)">intensity weighted (%)</text>
<polyline points="201.5,1720.2 316.5,1720.2 319.4,1695.34 325.4,1642.26 331.4,1595.24 337.4,1554.75 343.4,1520.73 349.4,1493.19 355.4,1472.14 361.4,1457.56 367.4,1449.65 373.4,1447.86 379.4,1452.11 385.4,1463.26 391.4,1481.73 397.4,1503.9 403.4,1519.39 409.4,1533.1 415.4,1550.36 421.4,1570.9 427.4,1592.96 433.4,1615.23 439.4,1638.48 445.4,1660.66 451.4,1681.86 453.4,1688.47 455.4,1694.71 457.4,1700.65 459.4,1706.2 461.4,1710.57 463.4,1714.21 465.4,1717.32 468,1720.2 527.3,1720.2" fill="none" stroke="#76D0F5" stroke-width="7" stroke-linejoin="miter" stroke-linecap="round"/>
<polyline points="201.5,1720.2 318.5,1720.2 321,1687.18 327,1621.84 333,1565.22 339,1517.3 345,1478.1 351,1447.6 357,1425.82 363,1412.76 369,1408.4 375,1412.7 381,1424.42 387,1451.05 393,1471.78 399,1491.87 405,1513.29 411,1539.5 417,1578.42 423,1623.26 429,1663.41 431,1676.08 433,1687.48 435,1697.06 437,1704.44 439,1709.72 441,1714.39 443,1718.04 445,1720.2 527.3,1720.2" fill="none" stroke="#468DCB" stroke-width="7" stroke-linejoin="miter" stroke-linecap="round"/>
<polyline points="201.5,1720.2 316.6,1720.2 321.2,1675.93 327.2,1604.65 333.2,1542.87 339.2,1490.6 345.2,1447.83 351.2,1414.57 357.2,1390.81 363.2,1376.55 369.2,1371.8 375.2,1376.55 381.2,1390.81 387.2,1414.57 393.2,1447.83 399.2,1490.6 405.2,1542.87 411.2,1604.65 413.2,1628.53 415.2,1653.55 417.2,1675.93 419.2,1694.31 421.2,1703.81 423.2,1710.24 425.2,1715.74 427.5,1720.2 527.3,1720.2" fill="none" stroke="#336BA8" stroke-width="7.2" stroke-linejoin="miter" stroke-linecap="round"/>
<line x1="491" y1="1322.5" x2="536" y2="1322.5" stroke="#336BA8" stroke-width="7.5" stroke-linecap="round"/>
<text x="561" y="1332.5" font-size="28.1" text-anchor="start" font-weight="normal" fill="#000">LNP Fresh</text>
<line x1="491" y1="1371.5" x2="536" y2="1371.5" stroke="#468DCB" stroke-width="7.5" stroke-linecap="round"/>
<text x="561" y="1381.5" font-size="28.1" text-anchor="start" font-weight="normal" fill="#000">LNP frozen 1x</text>
<line x1="491" y1="1420.5" x2="536" y2="1420.5" stroke="#76D0F5" stroke-width="7.5" stroke-linecap="round"/>
<text x="561" y="1430.5" font-size="28.1" text-anchor="start" font-weight="normal" fill="#000">LNP frozen 2x</text>
<text x="826.7" y="1272.8" font-size="48.5" text-anchor="start" font-weight="bold" fill="#000">H</text>
<path d="M1035.2,1713.8 L1035.2,1365.5 L1071.8,1365.5 L1071.8,1713.8Z" fill="#B5D3EF" stroke="#3A6EA8" stroke-width="5" stroke-linejoin="round"/>
<line x1="1053.5" y1="1338.3" x2="1053.5" y2="1387.4" stroke="#3A6EA8" stroke-width="2.6"/>
<line x1="1047" y1="1338.3" x2="1060" y2="1338.3" stroke="#3A6EA8" stroke-width="2.6"/>
<line x1="1047" y1="1387.4" x2="1060" y2="1387.4" stroke="#3A6EA8" stroke-width="2.6"/>
<line x1="1053.5" y1="1493.9" x2="1053.5" y2="1559.7" stroke="#6B3FA0" stroke-width="2.6"/>
<line x1="1043.5" y1="1493.9" x2="1063.5" y2="1493.9" stroke="#6B3FA0" stroke-width="2.6"/>
<line x1="1043.5" y1="1559.7" x2="1063.5" y2="1559.7" stroke="#6B3FA0" stroke-width="2.6"/>
<circle cx="1053.5" cy="1527" r="9" fill="#B59FCE"/>
<line x1="1053.5" y1="1716.8" x2="1053.5" y2="1736" stroke="#000" stroke-width="6"/>
<path d="M1125.7,1713.8 L1125.7,1368.5 L1162.3,1368.5 L1162.3,1713.8Z" fill="#B5D3EF" stroke="#3A6EA8" stroke-width="5" stroke-linejoin="round"/>
<line x1="1144" y1="1336.8" x2="1144" y2="1394.1" stroke="#3A6EA8" stroke-width="2.6"/>
<line x1="1137.5" y1="1336.8" x2="1150.5" y2="1336.8" stroke="#3A6EA8" stroke-width="2.6"/>
<line x1="1137.5" y1="1394.1" x2="1150.5" y2="1394.1" stroke="#3A6EA8" stroke-width="2.6"/>
<line x1="1144" y1="1471.2" x2="1144" y2="1511" stroke="#6B3FA0" stroke-width="2.6"/>
<line x1="1134" y1="1471.2" x2="1154" y2="1471.2" stroke="#6B3FA0" stroke-width="2.6"/>
<line x1="1134" y1="1511" x2="1154" y2="1511" stroke="#6B3FA0" stroke-width="2.6"/>
<circle cx="1144" cy="1490.9" r="9" fill="#B59FCE"/>
<line x1="1144" y1="1716.8" x2="1144" y2="1736" stroke="#000" stroke-width="6"/>
<path d="M1215.7,1713.8 L1215.7,1360.9 L1252.3,1360.9 L1252.3,1713.8Z" fill="#B5D3EF" stroke="#3A6EA8" stroke-width="5" stroke-linejoin="round"/>
<line x1="1234" y1="1320.4" x2="1234" y2="1393" stroke="#3A6EA8" stroke-width="2.6"/>
<line x1="1227.5" y1="1320.4" x2="1240.5" y2="1320.4" stroke="#3A6EA8" stroke-width="2.6"/>
<line x1="1227.5" y1="1393" x2="1240.5" y2="1393" stroke="#3A6EA8" stroke-width="2.6"/>
<line x1="1234" y1="1427.2" x2="1234" y2="1508" stroke="#6B3FA0" stroke-width="2.6"/>
<line x1="1224" y1="1427.2" x2="1244" y2="1427.2" stroke="#6B3FA0" stroke-width="2.6"/>
<line x1="1224" y1="1508" x2="1244" y2="1508" stroke="#6B3FA0" stroke-width="2.6"/>
<circle cx="1234" cy="1467.4" r="9" fill="#B59FCE"/>
<line x1="1234" y1="1716.8" x2="1234" y2="1736" stroke="#000" stroke-width="6"/>
<line x1="989" y1="1262.4" x2="1304.8" y2="1262.4" stroke="#000" stroke-width="6"/>
<line x1="989" y1="1716.8" x2="1304.8" y2="1716.8" stroke="#000" stroke-width="6"/>
<line x1="1008.9" y1="1262.4" x2="1008.9" y2="1716.8" stroke="#000" stroke-width="6"/>
<line x1="1279.4" y1="1262.4" x2="1279.4" y2="1716.8" stroke="#000" stroke-width="6"/>
<line x1="989" y1="1716.8" x2="1008.9" y2="1716.8" stroke="#000" stroke-width="6"/>
<text x="981.5" y="1729.3" font-size="36.5" text-anchor="end" font-weight="bold" fill="#3A6EA8" textLength="18.98" lengthAdjust="spacingAndGlyphs">0</text>
<line x1="989" y1="1603.2" x2="1008.9" y2="1603.2" stroke="#000" stroke-width="6"/>
<text x="981.5" y="1615.7" font-size="36.5" text-anchor="end" font-weight="bold" fill="#3A6EA8" textLength="37.96" lengthAdjust="spacingAndGlyphs">25</text>
<line x1="989" y1="1489.6" x2="1008.9" y2="1489.6" stroke="#000" stroke-width="6"/>
<text x="981.5" y="1502.1" font-size="36.5" text-anchor="end" font-weight="bold" fill="#3A6EA8" textLength="37.96" lengthAdjust="spacingAndGlyphs">50</text>
<line x1="989" y1="1376" x2="1008.9" y2="1376" stroke="#000" stroke-width="6"/>
<text x="981.5" y="1388.5" font-size="36.5" text-anchor="end" font-weight="bold" fill="#3A6EA8" textLength="37.96" lengthAdjust="spacingAndGlyphs">75</text>
<line x1="989" y1="1262.4" x2="1008.9" y2="1262.4" stroke="#000" stroke-width="6"/>
<text x="981.5" y="1274.9" font-size="36.5" text-anchor="end" font-weight="bold" fill="#3A6EA8" textLength="56.94" lengthAdjust="spacingAndGlyphs">100</text>
<line x1="1279.4" y1="1716.8" x2="1304.8" y2="1716.8" stroke="#000" stroke-width="6"/>
<text x="1312.5" y="1729.3" font-size="36.5" text-anchor="start" font-weight="bold" fill="#6B3FA0" textLength="47.44" lengthAdjust="spacingAndGlyphs">0.0</text>
<line x1="1279.4" y1="1603.2" x2="1304.8" y2="1603.2" stroke="#000" stroke-width="6"/>
<text x="1312.5" y="1615.7" font-size="36.5" text-anchor="start" font-weight="bold" fill="#6B3FA0" textLength="47.44" lengthAdjust="spacingAndGlyphs">0.1</text>
<line x1="1279.4" y1="1489.6" x2="1304.8" y2="1489.6" stroke="#000" stroke-width="6"/>
<text x="1312.5" y="1502.1" font-size="36.5" text-anchor="start" font-weight="bold" fill="#6B3FA0" textLength="47.44" lengthAdjust="spacingAndGlyphs">0.2</text>
<line x1="1279.4" y1="1376" x2="1304.8" y2="1376" stroke="#000" stroke-width="6"/>
<text x="1312.5" y="1388.5" font-size="36.5" text-anchor="start" font-weight="bold" fill="#6B3FA0" textLength="47.44" lengthAdjust="spacingAndGlyphs">0.3</text>
<line x1="1279.4" y1="1262.4" x2="1304.8" y2="1262.4" stroke="#000" stroke-width="6"/>
<text x="1312.5" y="1274.9" font-size="36.5" text-anchor="start" font-weight="bold" fill="#6B3FA0" textLength="47.44" lengthAdjust="spacingAndGlyphs">0.4</text>
<text x="1062.5" y="1765" font-size="34.8" text-anchor="end" font-weight="bold" fill="#000" transform="rotate(-45 1062.5 1765)">Fresh LNP</text>
<text x="1153" y="1765" font-size="34.8" text-anchor="end" font-weight="bold" fill="#000" transform="rotate(-45 1153 1765)">Frozen 1x</text>
<text x="1243" y="1765" font-size="34.8" text-anchor="end" font-weight="bold" fill="#000" transform="rotate(-45 1243 1765)">Frozen 2x</text>
<text x="902.8" y="1489" font-size="36.4" text-anchor="middle" font-weight="bold" fill="#3A6EA8" transform="rotate(-90 902.8 1489)">LNP diameter (nm)</text>
<text x="1383.5" y="1490.5" font-size="35" text-anchor="middle" font-weight="bold" fill="#6B3FA0" transform="rotate(90 1383.5 1490.5)">PDI</text>
<text x="1523" y="1272.9" font-size="48.5" text-anchor="start" font-weight="bold" fill="#000">I</text>
<rect x="1641.6" y="1293" width="44.7" height="16.8" fill="#B5D3EF" stroke="#3A6EA8" stroke-width="5"/>
<rect x="1641.6" y="1332" width="44.7" height="16.6" fill="#B59FCE" stroke="#68429F" stroke-width="5"/>
<text x="1712.6" y="1312.1" font-size="30.3" text-anchor="start" font-weight="normal" fill="#000" letter-spacing="0.3">Encapsulated TAA mRNA</text>
<text x="1712.6" y="1351" font-size="30.3" text-anchor="start" font-weight="normal" fill="#000" letter-spacing="0.3">Free TAA mRNA</text>
<path d="M1641.95,1406.8 L2056.1,1406.8 L2056.1,1470.7 L1641.95,1470.7" fill="#B59FCE" stroke="#68429F" stroke-width="4.6"/>
<path d="M1641.95,1406.8 L2041,1406.8 L2041,1470.7 L1641.95,1470.7" fill="#B5D3EF" stroke="#3A6EA8" stroke-width="4.6"/>
<path d="M1641.95,1508.3 L2056.1,1508.3 L2056.1,1572.1 L1641.95,1572.1" fill="#B59FCE" stroke="#68429F" stroke-width="4.6"/>
<path d="M1641.95,1508.3 L2008.5,1508.3 L2008.5,1572.1 L1641.95,1572.1" fill="#B5D3EF" stroke="#3A6EA8" stroke-width="4.6"/>
<path d="M1641.95,1610.7 L2056.1,1610.7 L2056.1,1674.7 L1641.95,1674.7" fill="#B59FCE" stroke="#68429F" stroke-width="4.6"/>
<path d="M1641.95,1610.7 L1993.7,1610.7 L1993.7,1674.7 L1641.95,1674.7" fill="#B5D3EF" stroke="#3A6EA8" stroke-width="4.6"/>
<line x1="2037.7" y1="1438" x2="2048.1" y2="1438" stroke="#3A6EA8" stroke-width="2.5"/>
<line x1="2037.7" y1="1421" x2="2037.7" y2="1455" stroke="#3A6EA8" stroke-width="2.5"/>
<line x1="2048.1" y1="1421" x2="2048.1" y2="1455" stroke="#3A6EA8" stroke-width="2.5"/>
<line x1="2038.6" y1="1421" x2="2038.6" y2="1455" stroke="#3A6EA8" stroke-width="4"/>
<line x1="2053.7" y1="1438" x2="2063" y2="1438" stroke="#68429F" stroke-width="2.5"/>
<line x1="2053.7" y1="1421" x2="2053.7" y2="1455" stroke="#68429F" stroke-width="2.5"/>
<line x1="2063" y1="1421" x2="2063" y2="1455" stroke="#68429F" stroke-width="2.5"/>
<line x1="2023.9" y1="1539.8" x2="2092.5" y2="1539.8" stroke="#68429F" stroke-width="2.5"/>
<line x1="2023.9" y1="1522.3" x2="2023.9" y2="1557.3" stroke="#68429F" stroke-width="2.5"/>
<line x1="2092.5" y1="1522.3" x2="2092.5" y2="1557.3" stroke="#68429F" stroke-width="2.5"/>
<line x1="1976.6" y1="1539.8" x2="2045.1" y2="1539.8" stroke="#3A6EA8" stroke-width="2.5"/>
<line x1="1976.6" y1="1522.3" x2="1976.6" y2="1557.3" stroke="#3A6EA8" stroke-width="2.5"/>
<line x1="2045.1" y1="1522.3" x2="2045.1" y2="1557.3" stroke="#3A6EA8" stroke-width="2.5"/>
<line x1="1982.9" y1="1641.9" x2="2009" y2="1641.9" stroke="#3A6EA8" stroke-width="2.5"/>
<line x1="1982.9" y1="1624.4" x2="1982.9" y2="1659.4" stroke="#3A6EA8" stroke-width="2.5"/>
<line x1="2009" y1="1624.4" x2="2009" y2="1659.4" stroke="#3A6EA8" stroke-width="2.5"/>
<line x1="2045.1" y1="1641.9" x2="2071.2" y2="1641.9" stroke="#68429F" stroke-width="2.5"/>
<line x1="2045.1" y1="1624.4" x2="2045.1" y2="1659.4" stroke="#68429F" stroke-width="2.5"/>
<line x1="2071.2" y1="1624.4" x2="2071.2" y2="1659.4" stroke="#68429F" stroke-width="2.5"/>
<line x1="1641.95" y1="1367.3" x2="1641.95" y2="1726.8" stroke="#000" stroke-width="5"/>
<line x1="2158" y1="1367.3" x2="2158" y2="1715.4" stroke="#000" stroke-width="5"/>
<line x1="1639.45" y1="1369.8" x2="2160.5" y2="1369.8" stroke="#000" stroke-width="5"/>
<line x1="1639.45" y1="1710.4" x2="2160.5" y2="1710.4" stroke="#000" stroke-width="5"/>
<line x1="1745.96" y1="1710.4" x2="1745.96" y2="1726.8" stroke="#000" stroke-width="5"/>
<line x1="1849.98" y1="1710.4" x2="1849.98" y2="1726.8" stroke="#000" stroke-width="5"/>
<line x1="1953.99" y1="1710.4" x2="1953.99" y2="1726.8" stroke="#000" stroke-width="5"/>
<line x1="2058" y1="1710.4" x2="2058" y2="1726.8" stroke="#000" stroke-width="5"/>
<text x="1641.95" y="1759.8" font-size="30" text-anchor="middle" font-weight="bold" fill="#000">0</text>
<text x="1745.96" y="1759.8" font-size="30" text-anchor="middle" font-weight="bold" fill="#000">25</text>
<text x="1849.98" y="1759.8" font-size="30" text-anchor="middle" font-weight="bold" fill="#000">50</text>
<text x="1953.99" y="1759.8" font-size="30" text-anchor="middle" font-weight="bold" fill="#000">75</text>
<text x="2058" y="1759.8" font-size="30" text-anchor="middle" font-weight="bold" fill="#000">100</text>
<line x1="1624" y1="1438.75" x2="1641.95" y2="1438.75" stroke="#000" stroke-width="5"/>
<text x="1605.7" y="1449.35" font-size="27.2" text-anchor="end" font-weight="bold" fill="#000" textLength="147.7" lengthAdjust="spacingAndGlyphs" stroke="#000" stroke-width="0.45">Fresh LNP</text>
<text x="2104" y="1445.95" font-size="24.2" text-anchor="start" font-weight="normal" fill="#000">96%</text>
<line x1="1624" y1="1540.2" x2="1641.95" y2="1540.2" stroke="#000" stroke-width="5"/>
<text x="1606.6" y="1550.8" font-size="27.2" text-anchor="end" font-weight="bold" fill="#000" textLength="138" lengthAdjust="spacingAndGlyphs" stroke="#000" stroke-width="0.45">Frozen 1x</text>
<text x="2104" y="1547.4" font-size="24.2" text-anchor="start" font-weight="normal" fill="#000">93%</text>
<line x1="1624" y1="1642.7" x2="1641.95" y2="1642.7" stroke="#000" stroke-width="5"/>
<text x="1606.6" y="1653.3" font-size="27.2" text-anchor="end" font-weight="bold" fill="#000" textLength="138" lengthAdjust="spacingAndGlyphs" stroke="#000" stroke-width="0.45">Frozen 2x</text>
<text x="2104" y="1649.9" font-size="24.2" text-anchor="start" font-weight="normal" fill="#000">85%</text>
<text x="1922.6" y="1816" font-size="38" text-anchor="middle" font-weight="bold" fill="#000">Encapsulation efficiency (%)</text>
</svg>
</body></html>
